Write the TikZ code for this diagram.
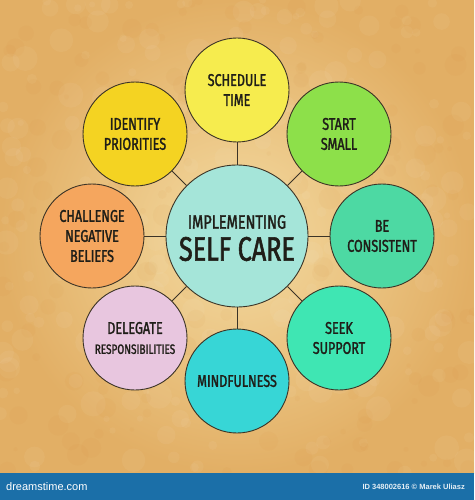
\documentclass[tikz,border=0pt]{standalone}
\usepackage{fontspec}
\newfontfamily\hand[FakeStretch=0.74,FakeBold=1.6]{Fira Sans}
\newfontfamily\barfont{Liberation Sans}
\definecolor{bgmid}{HTML}{F4DBA2}
\definecolor{bgout}{HTML}{E2AF65}
\definecolor{barblue}{HTML}{1B6FA8}
\definecolor{ink}{HTML}{1F1E18}
\definecolor{rim}{HTML}{3B3326}
\definecolor{cCenter}{HTML}{A5E5D9}
\definecolor{cSched}{HTML}{F6EC4E}
\definecolor{cIdent}{HTML}{F4D322}
\definecolor{cStart}{HTML}{8DE04A}
\definecolor{cChal}{HTML}{F5A65E}
\definecolor{cCons}{HTML}{4DD9A3}
\definecolor{cDeleg}{HTML}{E8C6DF}
\definecolor{cSeek}{HTML}{3FE6B3}
\definecolor{cMind}{HTML}{37D6D6}
\tikzset{
  bub/.style={circle, draw=rim, line width=0.9pt, minimum size=104pt, inner sep=0pt,
    text=ink, align=center, font=\hand\fontsize{17}{20}\selectfont},
  hub/.style={circle, draw=rim, line width=0.9pt, minimum size=142pt, inner sep=0pt,
    text=ink, align=center},
  conn/.style={draw=rim, line width=1pt},
}
\begin{document}
\begin{tikzpicture}[x=1pt,y=-1pt]
\useasboundingbox (0,0) rectangle (474,500);
% background
\shade[inner color=bgmid, outer color=bgout] (0,0) rectangle (474,473);
\begin{scope}
\clip (0,0) rectangle (474,473);
\pgfmathsetseed{11}
\foreach \i in {1,...,260}{
  \pgfmathsetmacro\px{rnd*474}
  \pgfmathsetmacro\py{rnd*473}
  \pgfmathsetmacro\pr{3+rnd*10}
  \fill[white, opacity=0.05] (\px,\py) circle (\pr pt);
}
\foreach \i in {1,...,200}{
  \pgfmathsetmacro\px{rnd*474}
  \pgfmathsetmacro\py{rnd*473}
  \pgfmathsetmacro\pr{2+rnd*9}
  \fill[brown!70!orange, opacity=0.05] (\px,\py) circle (\pr pt);
}
\end{scope}
% bottom bar
\fill[barblue] (0,473) rectangle (474,500);
\node[anchor=west, text=white, font=\barfont\fontsize{11}{12}\selectfont, inner sep=0pt] (brand) at (6,487) {dreamstime.com};
\node[anchor=east, text=white!88!barblue, font=\barfont\bfseries\fontsize{7.5}{9}\selectfont, inner sep=0pt] (credit) at (465,487) {ID 348002616 \textcopyright\ Marek Uliasz};
% nodes
\node[hub, fill=cCenter] (hub) at (237,236) {};
\node[text=ink, inner sep=0pt, font=\hand\fontsize{19.5}{20}\selectfont] (impl) at (237,222) {IMPLEMENTING};
\node[text=ink, inner sep=0pt, font=\hand\fontsize{34}{34}\selectfont] (self) at (237,249) {SELF CARE};
\node[bub, fill=cSched] (sched) at (237,90) {SCHEDULE\\TIME};
\node[bub, fill=cIdent] (ident) at (135,134) {IDENTIFY\\PRIORITIES};
\node[bub, fill=cStart] (start) at (339,134) {START\\SMALL};
\node[bub, fill=cChal] (chal) at (92,236) {CHALLENGE\\NEGATIVE\\BELIEFS};
\node[bub, fill=cCons] (cons) at (382,236) {BE\\CONSISTENT};
\node[bub, fill=cDeleg] (deleg) at (135,338) {DELEGATE\\{\fontsize{13.5}{18}\selectfont RESPONSIBILITIES}};
\node[bub, fill=cSeek] (seek) at (339,338) {SEEK\\SUPPORT};
\node[bub, fill=cMind] (mind) at (237,381) {MINDFULNESS};
% connectors
\foreach \n in {sched,ident,start,chal,cons,deleg,seek,mind}{
  \draw[conn] (hub) -- (\n);
}
\end{tikzpicture}
\end{document}
